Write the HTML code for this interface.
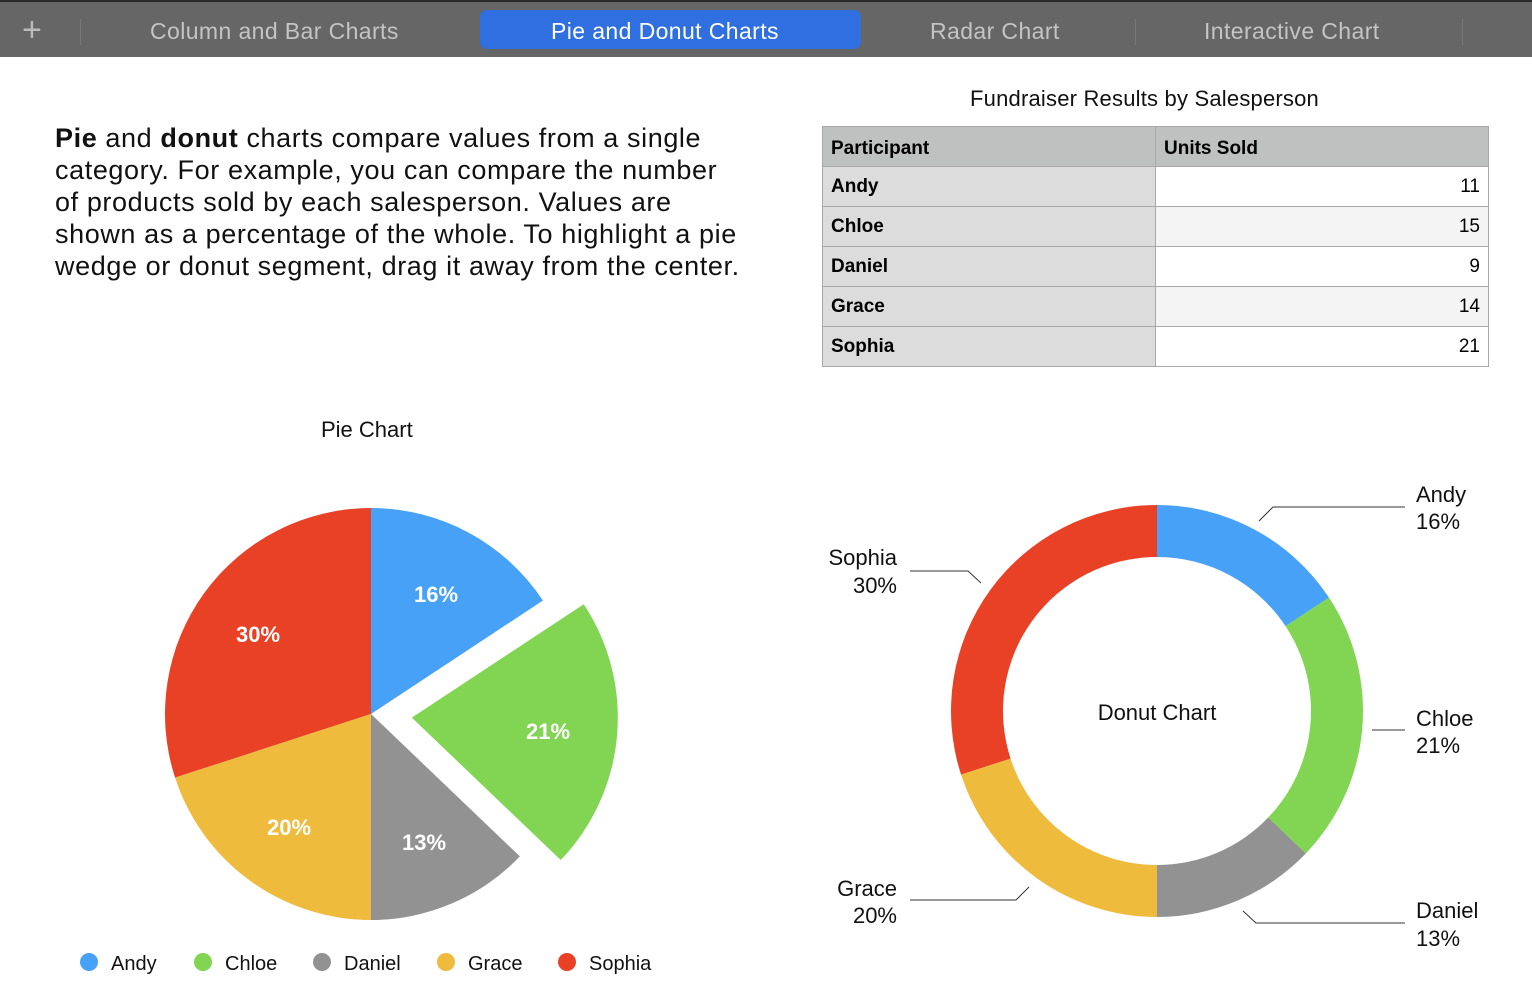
<!DOCTYPE html>
<html><head><meta charset="utf-8"><style>
body{margin:0;width:1532px;height:998px;background:#fff;font-family:"Liberation Sans",sans-serif;position:relative;overflow:hidden}
.bar{position:absolute;left:0;top:0;width:1532px;height:57px;background:#666;border-top:2px solid #2a2a2a;box-sizing:border-box}
.tab{position:absolute;top:16px;font-size:23px;color:#c4c4c4;white-space:nowrap;letter-spacing:0.4px}
.sep{position:absolute;top:17px;width:1px;height:26px;background:#777}
.para{position:absolute;left:55px;top:122px;font-size:27px;line-height:32px;color:#111;white-space:nowrap;letter-spacing:0.6px}
table{position:absolute;left:822px;top:126px;border-collapse:collapse;font-size:19px}
td{height:40px;border:1px solid #a8a8a8;padding:0 8px;box-sizing:border-box}
.t{position:absolute;font-size:22px;color:#111;white-space:nowrap}
</style></head><body>
<div class="bar">
<div class="tab" style="left:22px;top:9px;font-size:34px;color:#bbb">+</div>
<div class="sep" style="left:80px"></div>
<div class="tab" style="left:150px">Column and Bar Charts</div>
<div style="position:absolute;left:480px;top:8px;width:381px;height:39px;background:#2f6fe0;border-radius:7px"></div>
<div class="tab" style="left:551px;color:#fff">Pie and Donut Charts</div>
<div class="tab" style="left:930px">Radar Chart</div>
<div class="sep" style="left:1135px"></div>
<div class="tab" style="left:1204px">Interactive Chart</div>
<div class="sep" style="left:1462px"></div>
</div>
<div class="para"><b>Pie</b> and <b>donut</b> charts compare values from a single<br>category. For example, you can compare the number<br>of products sold by each salesperson. Values are<br>shown as a percentage of the whole. To highlight a pie<br>wedge or donut segment, drag it away from the center.</div>
<div class="t" style="left:970px;top:86px;letter-spacing:0.2px">Fundraiser Results by Salesperson</div>
<table>
<tr style="background:#bfc1c0;font-weight:bold"><td style="width:333px;padding-top:4px">Participant</td><td style="width:333px;padding-top:4px">Units Sold</td></tr>
<tr><td style="background:#dcdcdc;font-weight:bold">Andy</td><td style="text-align:right">11</td></tr>
<tr><td style="background:#dcdcdc;font-weight:bold">Chloe</td><td style="text-align:right;background:#f4f4f4">15</td></tr>
<tr><td style="background:#dcdcdc;font-weight:bold">Daniel</td><td style="text-align:right">9</td></tr>
<tr><td style="background:#dcdcdc;font-weight:bold">Grace</td><td style="text-align:right;background:#f4f4f4">14</td></tr>
<tr><td style="background:#dcdcdc;font-weight:bold">Sophia</td><td style="text-align:right">21</td></tr>
</table>
<div class="t" style="left:321px;top:417px">Pie Chart</div>
<svg id="s" width="1532" height="998" style="position:absolute;left:0;top:0" font-family="Liberation Sans, sans-serif">
<g fill="none" stroke="#333" stroke-width="1">
<polyline points="1259,521 1273,507 1405,507"/>
<polyline points="910,571 968,571 981,583"/>
<polyline points="1372,730 1405,730"/>
<polyline points="910,900 1016,900 1029,887"/>
<polyline points="1243,911 1256,923 1405,923"/>
</g>
<g font-size="22" fill="#111">
<text x="1416" y="502">Andy</text><text x="1416" y="529">16%</text>
<text x="897" y="565" text-anchor="end">Sophia</text><text x="897" y="593" text-anchor="end">30%</text>
<text x="1416" y="726">Chloe</text><text x="1416" y="753">21%</text>
<text x="897" y="896" text-anchor="end">Grace</text><text x="897" y="923" text-anchor="end">20%</text>
<text x="1416" y="918">Daniel</text><text x="1416" y="946">13%</text>
<text x="1157" y="720" text-anchor="middle">Donut Chart</text>
</g>
<g font-size="22" font-weight="bold" fill="#fff" text-anchor="middle" id="pl"></g>
<g font-size="20" fill="#111">
<circle cx="89" cy="962" r="9" fill="#47a1f7"/><text x="111" y="970">Andy</text>
<circle cx="203" cy="962" r="9" fill="#81d553"/><text x="225" y="970">Chloe</text>
<circle cx="322" cy="962" r="9" fill="#929292"/><text x="344" y="970">Daniel</text>
<circle cx="446" cy="962" r="9" fill="#efbb3d"/><text x="468" y="970">Grace</text>
<circle cx="567" cy="962" r="9" fill="#e94126"/><text x="589" y="970">Sophia</text>
</g>
</svg>
<script>
var v=[11,15,9,14,21],c=["#47a1f7","#81d553","#929292","#efbb3d","#e94126"],t=70,s=document.getElementById('s'),ns="http://www.w3.org/2000/svg";
function P(cx,cy,r,a){a=a*Math.PI/180;return [cx+r*Math.sin(a),cy-r*Math.cos(a)];}
var a=0;
for(var i=0;i<5;i++){var b=a+v[i]/t*360,m=(a+b)/2,L=(b-a)>180?1:0;
var dx=0,dy=0;if(i==1){var o=P(0,0,41,m);dx=o[0];dy=o[1];}
var cx=371+dx,cy=714+dy,p1=P(cx,cy,206,a),p2=P(cx,cy,206,b);
var pa=document.createElementNS(ns,"path");pa.setAttribute("d","M"+cx+","+cy+"L"+p1+"A206,206 0 "+L+" 1 "+p2+"Z");pa.setAttribute("fill",c[i]);s.insertBefore(pa,s.firstChild);
var q1=P(1157,711,206,a),q2=P(1157,711,206,b),q3=P(1157,711,154,b),q4=P(1157,711,154,a);
var d=document.createElementNS(ns,"path");d.setAttribute("d","M"+q1+"A206,206 0 "+L+" 1 "+q2+"L"+q3+"A154,154 0 "+L+" 0 "+q4+"Z");d.setAttribute("fill",c[i]);s.insertBefore(d,s.firstChild);
a=b;}
var lb=[["16%",436,602],["21%",548,739],["13%",424,850],["20%",289,835],["30%",258,642]],g=document.getElementById('pl');
lb.forEach(function(l){var e=document.createElementNS(ns,"text");e.setAttribute("x",l[1]);e.setAttribute("y",l[2]);e.textContent=l[0];g.appendChild(e);});
</script>
</body></html>
